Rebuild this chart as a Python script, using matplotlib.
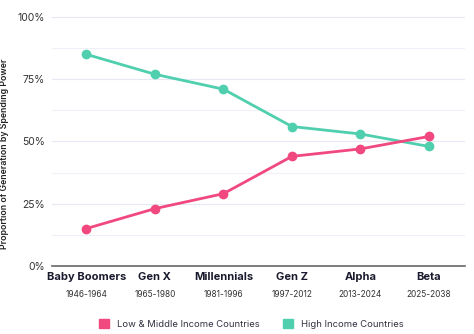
import numpy as np
import matplotlib
matplotlib.use("Agg")
import matplotlib.pyplot as plt
from matplotlib.patches import Patch

generations = ["Baby Boomers", "Gen X", "Millennials", "Gen Z", "Alpha", "Beta"]
years = ["1946-1964", "1965-1980", "1981-1996", "1997-2012", "2013-2024", "2025-2038"]
low_mid = [15, 23, 29, 44, 47, 52]
high = [85, 77, 71, 56, 53, 48]

PINK = "#f0487f"
TEAL = "#4fcfae"

plt.rcParams["font.family"] = ["Inter", "DejaVu Sans"]

fig = plt.figure(figsize=(4.74, 3.34), dpi=100)
ax = fig.add_axes([0.11, 0.204, 0.87, 0.745])

x = np.arange(len(generations))
ax.plot(x, high, color=TEAL, lw=2, marker="o", ms=6, zorder=3)
ax.plot(x, low_mid, color=PINK, lw=2, marker="o", ms=6, zorder=3)

ax.set_xlim(-0.5, 5.52)
ax.set_ylim(0, 100)
ax.set_yticks([0, 25, 50, 75, 100])
ax.set_yticklabels([f"{v}%" for v in [0, 25, 50, 75, 100]], fontsize=7.5, color="#333333")
ax.set_yticks([12.5, 37.5, 62.5, 87.5], minor=True)
ax.grid(axis="y", which="major", color="#e6e8f5", lw=0.8)
ax.grid(axis="y", which="minor", color="#f0f1f8", lw=0.8)
ax.set_axisbelow(True)
ax.tick_params(axis="y", which="both", length=0, pad=5)
ax.tick_params(axis="x", length=0)
ax.set_xticks(x)
ax.set_xticklabels([])
for s in ["top", "right", "left"]:
    ax.spines[s].set_visible(False)
ax.spines["bottom"].set_color("#666666")
ax.spines["bottom"].set_linewidth(1.2)

ax.set_ylabel("Proportion of Generation by Spending Power", fontsize=6.3,
              fontweight="semibold", color="#222222")
ax.yaxis.set_label_coords(-0.105, 0.45)

trans = ax.get_xaxis_transform()
for i, (g, yr) in enumerate(zip(generations, years)):
    ax.text(i, -0.045, g, transform=trans, ha="center", va="center",
            fontsize=8, fontweight="bold", color="#1a1a2e")
    ax.text(i, -0.115, yr, transform=trans, ha="center", va="center",
            fontsize=6, color="#333333")

handles = [Patch(color=PINK, label="Low & Middle Income Countries"),
           Patch(color=TEAL, label="High Income Countries")]
fig.legend(handles=handles, loc="center", bbox_to_anchor=(0.53, 0.03), ncol=2,
           frameon=False, fontsize=6.8, handlelength=1.1, handleheight=1.1,
           columnspacing=2.5, labelcolor="#333344")

fig.savefig("out.png", dpi=100)
